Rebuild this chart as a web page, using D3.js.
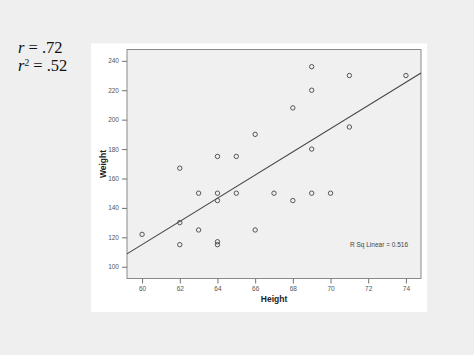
<!DOCTYPE html>
<html><head><meta charset="utf-8">
<script src="https://cdn.jsdelivr.net/npm/d3@7"></script>
<style>
html,body{margin:0;padding:0;background:#efefef;}
svg{display:block;}
</style></head>
<body>
<script>
const heights = [60,62,62,62,63,63,64,64,64,64,64,65,65,66,66,67,68,68,69,69,69,69,70,71,71,74];
const weights = [122,167,130,115,150,125,175,150,145,117,115,175,150,190,125,150,208,145,236,220,180,150,150,230,195,230];
const xTicks = [60,62,64,66,68,70,72,74];
const yTicks = [100,120,140,160,180,200,220,240];
const xDomain = [59.2, 74.8];
const yDomain = [92, 247.7];
const rSqLabel = "R Sq Linear = 0.516";

(function(){
const W = 474, H = 355;
const svg = d3.select("body").append("svg").attr("width", W).attr("height", H);
svg.append("rect").attr("width", W).attr("height", H).attr("fill", "#efefef");

// white panel
svg.append("rect").attr("x", 91).attr("y", 43.5).attr("width", 336).attr("height", 268.5).attr("fill", "#ffffff");

const pL = 127, pR = 421, pT = 49.5, pB = 278.5;
const x = d3.scaleLinear().domain(xDomain).range([pL, pR]);
const y = d3.scaleLinear().domain(yDomain).range([pB, pT]);

svg.append("rect").attr("x", pL).attr("y", pT).attr("width", pR-pL).attr("height", pB-pT)
  .attr("fill", "#f0f0f0").attr("stroke", "#8a8a8a").attr("stroke-width", 1);

const xAxis = svg.append("g").attr("transform", `translate(0,${pB})`)
  .call(d3.axisBottom(x).tickValues(xTicks).tickSize(5).tickPadding(3));
const yAxis = svg.append("g").attr("transform", `translate(${pL},0)`)
  .call(d3.axisLeft(y).tickValues(yTicks).tickSize(5).tickPadding(3));
[xAxis, yAxis].forEach(g => {
  g.select(".domain").remove();
  g.selectAll(".tick line").attr("stroke", "#707070");
  g.selectAll(".tick text").attr("fill", "#555").style("font-family", "Liberation Sans, Arial, sans-serif").style("font-size", "6.5px");
});

// regression line (least squares from data)
const mx = d3.mean(heights), my = d3.mean(weights);
let sxy = 0, sxx = 0;
heights.forEach((h, i) => { sxy += (h-mx)*(weights[i]-my); sxx += (h-mx)*(h-mx); });
const slope = sxy/sxx, icpt = my - slope*mx;
svg.append("line")
  .attr("x1", x(xDomain[0])).attr("y1", y(icpt + slope*xDomain[0]))
  .attr("x2", x(xDomain[1])).attr("y2", y(icpt + slope*xDomain[1]))
  .attr("stroke", "#444").attr("stroke-width", 1.1);

svg.append("g").selectAll("circle").data(heights.map((h,i)=>[h, weights[i]])).join("circle")
  .attr("cx", d => x(d[0])).attr("cy", d => y(d[1])).attr("r", 2.2)
  .attr("fill", "none").attr("stroke", "#555").attr("stroke-width", 1);

svg.append("text").attr("x", 408).attr("y", 246.5).attr("text-anchor", "end")
  .style("font-family", "Liberation Sans, Arial, sans-serif").style("font-size", "6.5px").attr("fill", "#444")
  .text(rSqLabel);

svg.append("text").attr("x", (pL+pR)/2).attr("y", 301.5).attr("text-anchor", "middle")
  .style("font-family", "Liberation Sans, Arial, sans-serif").style("font-size", "8.5px").style("font-weight", "bold").attr("fill", "#222")
  .text("Height");
svg.append("text").attr("transform", `translate(106,${(pT+pB)/2}) rotate(-90)`).attr("text-anchor", "middle")
  .style("font-family", "Liberation Sans, Arial, sans-serif").style("font-size", "8.5px").style("font-weight", "bold").attr("fill", "#222")
  .text("Weight");

// r annotations
const serif = "Liberation Serif, Times New Roman, serif";
const t1 = svg.append("text").attr("x", 18).attr("y", 52.5).style("font-family", serif).style("font-size", "16.5px").attr("fill", "#111");
t1.append("tspan").style("font-style", "italic").text("r");
t1.append("tspan").text(" = .72");
const t2 = svg.append("text").attr("x", 18).attr("y", 71).style("font-family", serif).style("font-size", "16.5px").attr("fill", "#111");
t2.append("tspan").style("font-style", "italic").text("r");
t2.append("tspan").attr("dy", -5.5).style("font-size", "9.5px").text("2");
t2.append("tspan").attr("dy", 5.5).text(" = .52");
})();
</script>
</body></html>
